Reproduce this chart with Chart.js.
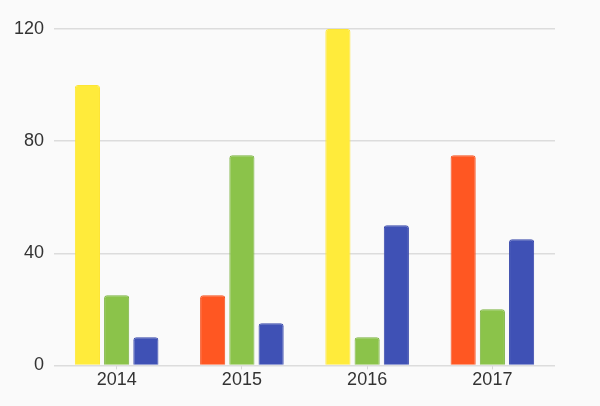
<!DOCTYPE html>
<html>
<head>
<meta charset="utf-8">
<script src="https://cdn.jsdelivr.net/npm/chart.js@4/dist/chart.umd.min.js"></script>
<style>
  html, body { margin: 0; padding: 0; background: #fafafa; }
  #wrap { width: 600px; height: 406px; }
</style>
</head>
<body>
<div id="wrap"><canvas id="chart"></canvas></div>
<script>
// ─── Data ───
const years = ['2014', '2015', '2016', '2017'];
const seriesA = [100, 25, 120, 75];
const seriesB = [25, 75, 10, 20];
const seriesC = [10, 15, 50, 45];
const yTicks = [0, 40, 80, 120];

const yellow = '#ffeb3b', orange = '#ff5722', green = '#8bc34a', blue = '#3f51b5';
const colorsA = [yellow, orange, yellow, orange];
const bordersA = ['#fde535', '#f4511e', '#fde535', '#f4511e'];

const bar = { borderWidth: 1, borderRadius: 3, borderSkipped: 'bottom', categoryPercentage: 0.7, barPercentage: 0.86 };

new Chart(document.getElementById('chart'), {
  type: 'bar',
  data: {
    labels: years,
    datasets: [
      { data: seriesA, backgroundColor: colorsA, borderColor: bordersA, ...bar },
      { data: seriesB, backgroundColor: green, borderColor: '#7cb342', ...bar },
      { data: seriesC, backgroundColor: blue, borderColor: '#3949ab', ...bar },
    ],
  },
  options: {
    responsive: true, maintainAspectRatio: false, animation: false,
    layout: { padding: { top: 29, right: 45, left: 4, bottom: 15 } },
    plugins: { legend: { display: false }, tooltip: { enabled: false } },
    scales: {
      x: {
        grid: { display: true, drawOnChartArea: false, drawTicks: true, tickLength: 4, offset: false, color: '#d6d6d6' },
        border: { display: false },
        ticks: { color: '#333', font: { family: 'Liberation Sans', size: 18 }, padding: 0 },
      },
      y: {
        min: 0, max: 120,
        afterBuildTicks: s => { s.ticks = yTicks.map(v => ({ value: v })); },
        grid: { color: '#dcdcdc', lineWidth: 1.5, drawTicks: false },
        border: { display: false },
        ticks: { color: '#333', font: { family: 'Liberation Sans', size: 18 }, padding: 10 },
      },
    },
  },
});
</script>
</body>
</html>
